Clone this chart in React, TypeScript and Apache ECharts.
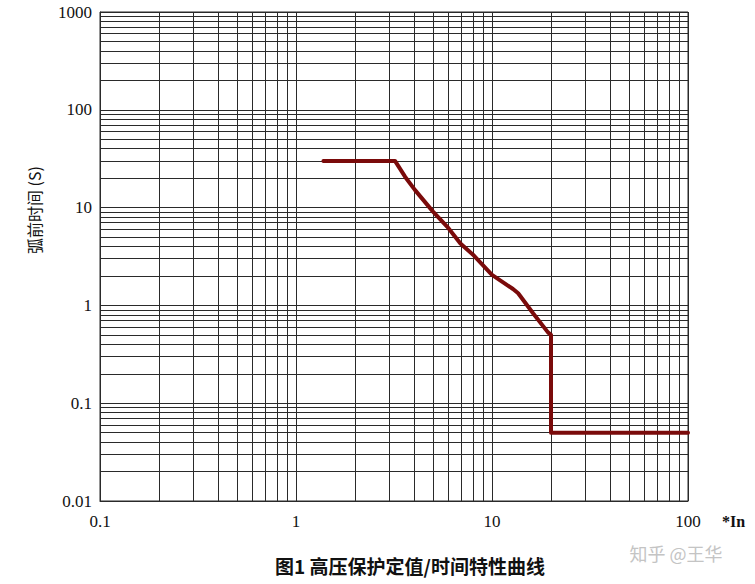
import { useEffect, useRef } from 'react';
import * as echarts from 'echarts';

// characteristic curve (x in *In, y in seconds)
const curveX = [1.38, 3.2, 3.6, 4.05, 5.0, 5.9, 6.9, 8.0, 10, 11.9, 12.8, 13.6, 16.2, 19.3, 20, 20, 100];
const curveY = [30, 30, 20.7, 15.1, 9.1, 6.4, 4.3, 3.3, 2.05, 1.62, 1.47, 1.33, 0.83, 0.53, 0.5, 0.05, 0.05];

// log paper: decades and the minor multipliers between them
const xDecades = [0.1, 1, 10];
const yDecades = [0.01, 0.1, 1, 10, 100];
const minorSteps = [2, 3, 4, 5, 6, 7, 8, 9];

const TITLE = '图1 高压保护定值/时间特性曲线';
const Y_NAME = '弧前时间 (S)';
const X_UNIT = '*In';
const WATERMARK = '知乎 @王华';

const GRID_COLOR = '#2a2a2a';
const CURVE_COLOR = '#7a0a0a';
const LABEL_FONT = '"Liberation Serif", "DejaVu Serif", serif';
const CJK_FONT = '"Noto Sans CJK SC", sans-serif';

const round = (v: number) => parseFloat(v.toPrecision(6));

export default function App() {
  const ref = useRef<HTMLDivElement | null>(null);

  useEffect(() => {
    if (!ref.current) return;
    const chart = echarts.init(ref.current, undefined, { renderer: 'svg' });

    const xMinor = xDecades.flatMap(d => minorSteps.map(m => ({ xAxis: round(d * m) })));
    const yMinor = yDecades.flatMap(d => minorSteps.map(m => ({ yAxis: round(d * m) })));

    chart.setOption({
      animation: false,
      grid: {
        left: 100,
        right: 67,
        top: 12,
        bottom: 83,
        show: true,
        borderColor: GRID_COLOR,
        borderWidth: 1,
      },
      xAxis: {
        type: 'log',
        logBase: 10,
        min: 0.1,
        max: 100,
        axisLine: { lineStyle: { color: GRID_COLOR, width: 1 } },
        axisTick: { show: false },
        splitLine: { show: true, lineStyle: { color: GRID_COLOR, width: 1 } },
        axisLabel: {
          color: '#111',
          fontSize: 17,
          fontFamily: LABEL_FONT,
          margin: 12,
          formatter: (v: number) => String(round(v)),
        },
      },
      yAxis: {
        type: 'log',
        logBase: 10,
        min: 0.01,
        max: 1000,
        axisLine: { lineStyle: { color: GRID_COLOR, width: 1 } },
        axisTick: { show: false },
        splitLine: { show: true, lineStyle: { color: GRID_COLOR, width: 1 } },
        axisLabel: {
          color: '#111',
          fontSize: 17,
          fontFamily: LABEL_FONT,
          margin: 8,
          formatter: (v: number) => String(round(v)),
        },
      },
      graphic: [
        {
          type: 'text',
          x: 34,
          y: 210,
          rotation: Math.PI / 2,
          style: {
            text: Y_NAME,
            fill: '#111',
            font: `16px ${CJK_FONT}`,
            textAlign: 'center',
            textVerticalAlign: 'middle',
          },
        },
        {
          type: 'text',
          x: 722,
          y: 521,
          style: {
            text: X_UNIT,
            fill: '#111',
            font: `bold 16px ${LABEL_FONT}`,
            textAlign: 'left',
            textVerticalAlign: 'middle',
          },
        },
        {
          type: 'text',
          x: 410,
          y: 565,
          style: {
            text: TITLE,
            fill: '#111',
            font: `bold 19px ${CJK_FONT}`,
            textAlign: 'center',
            textVerticalAlign: 'middle',
          },
        },
        {
          type: 'text',
          x: 676,
          y: 553,
          style: {
            text: WATERMARK,
            fill: '#c4c4c4',
            font: `18px ${CJK_FONT}`,
            textAlign: 'center',
            textVerticalAlign: 'middle',
          },
        },
      ],
      series: [
        {
          type: 'line',
          data: [],
          silent: true,
          z: 1,
          markLine: {
            silent: true,
            symbol: ['none', 'none'],
            label: { show: false },
            lineStyle: { type: 'solid', color: GRID_COLOR, width: 1 },
            emphasis: { disabled: true },
            data: [...xMinor, ...yMinor],
          },
        },
        {
          type: 'line',
          z: 5,
          data: curveX.map((x, i) => [x, curveY[i]]),
          showSymbol: false,
          symbol: 'none',
          lineStyle: { color: CURVE_COLOR, width: 4, cap: 'round', join: 'round' },
        },
      ],
    });

    return () => {
      chart.dispose();
    };
  }, []);

  return (
    <div
      ref={ref}
      style={{ position: 'fixed', left: 0, top: 0, width: 755, height: 584, background: '#fff' }}
    />
  );
}
